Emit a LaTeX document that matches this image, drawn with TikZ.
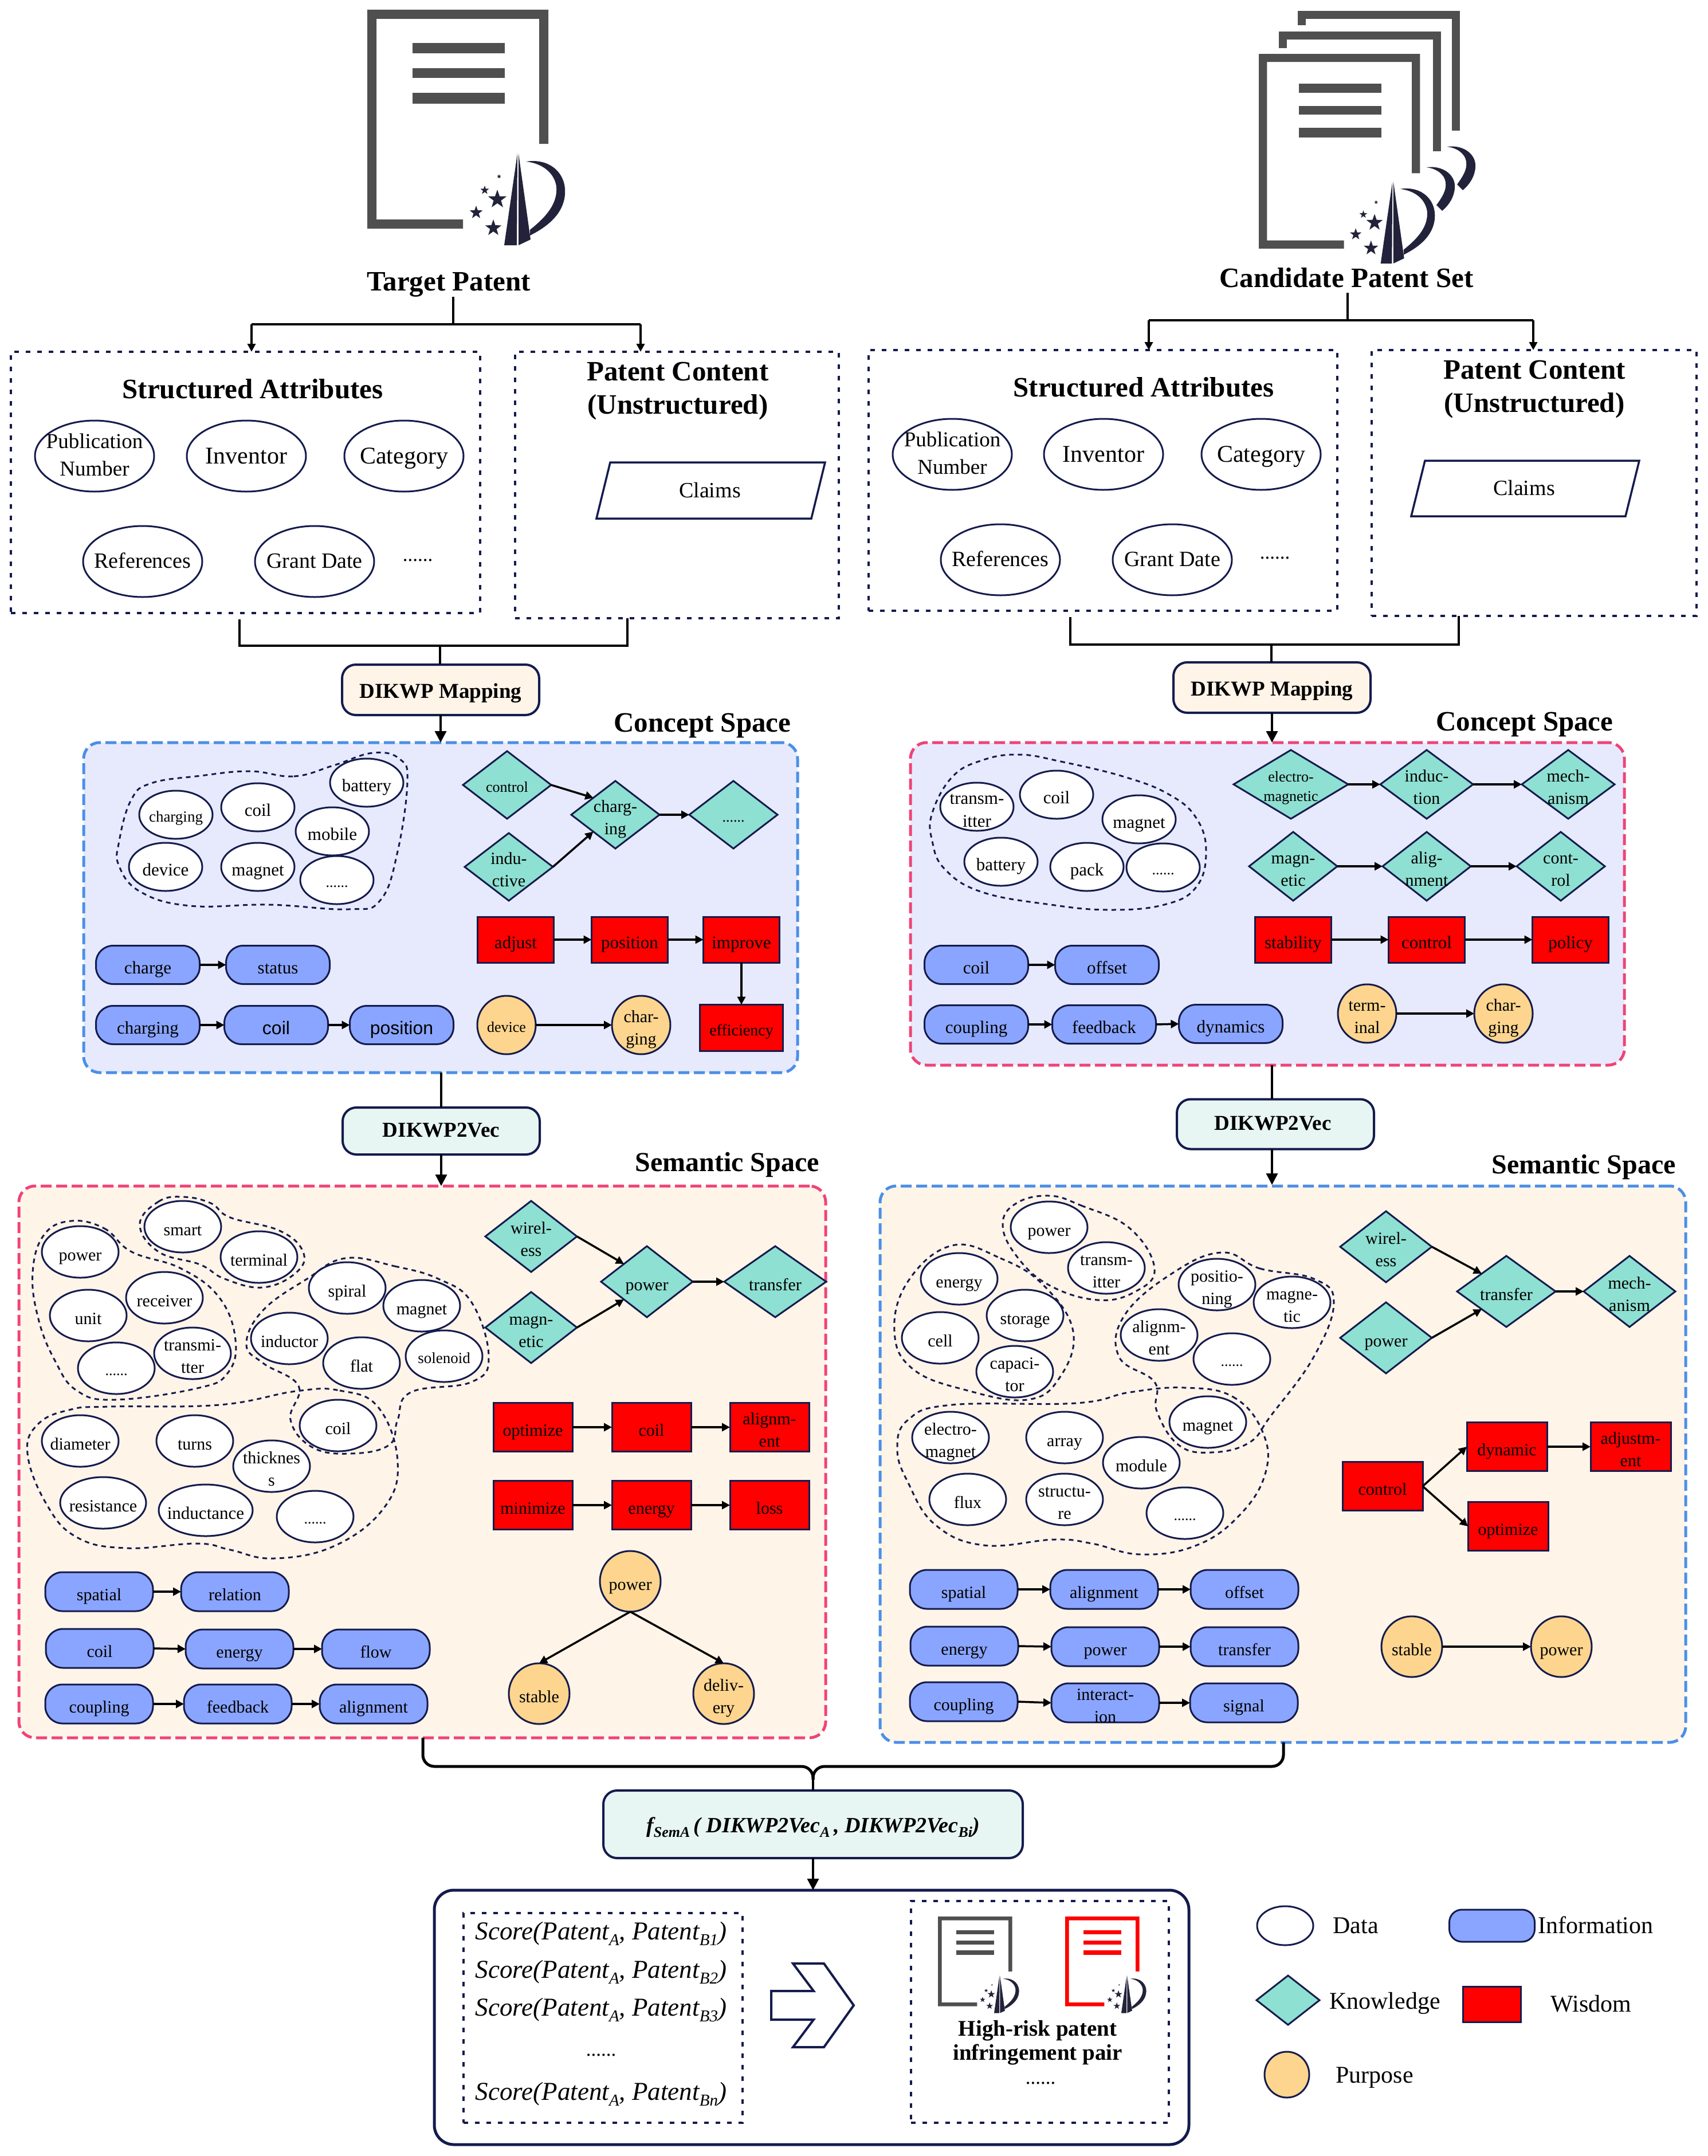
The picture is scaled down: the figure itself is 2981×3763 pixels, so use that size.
\documentclass[tikz,border=0pt]{standalone}
\usepackage{fontspec}
\setmainfont{Liberation Serif}
\newfontfamily\lsans{Liberation Sans}
\usetikzlibrary{shapes.geometric,arrows.meta,calc}
\definecolor{navy}{HTML}{141B4D}
\definecolor{cblue}{HTML}{4A8FE7}
\definecolor{crim}{HTML}{EE4478}
\definecolor{pconc}{HTML}{E7EAFD}
\definecolor{psem}{HTML}{FFF4E8}
\definecolor{pvec}{HTML}{E8F6F3}
\definecolor{teal}{HTML}{8EE0D2}
\definecolor{pblue}{HTML}{8AA5FF}
\definecolor{porange}{HTML}{FDD58E}
\definecolor{docgray}{HTML}{4F4F4F}
\definecolor{logoc}{HTML}{22233A}
\newcommand\tbd{-.2em}
\newcommand\tb[1]{\smash{\makebox[0pt][c]{\raisebox{\tbd}{\begin{tabular}[c]{@{}c@{}}#1\end{tabular}}}}}
\newcommand\nd[4][]{\node[#1] (#2) at (#3) {\tb{#4}};}
\newcommand\lnk[2]{\draw[arr] (#1.east) -- (#2.west);}
\newcommand\starp[3]{\fill[logoc,shift={(#1,#2)}] (-90:#3) -- (-54:.4*#3) -- (-18:#3) -- (18:.4*#3) -- (54:#3) -- (90:.4*#3) -- (126:#3) -- (162:.4*#3) -- (198:#3) -- (234:.4*#3) -- cycle;}
\newcommand\subt[2]{\raisebox{-.22em}{\fontsize{#1}{#1}\selectfont #2}}
\newcommand\scr[1]{Score(Patent\subt{29}{A}, Patent\subt{29}{#1})}
\newcommand\logodraw{%
  \fill[logoc] (262,251) -- (239,411) -- (261,411) -- cycle;
  \fill[logoc] (264,251) -- (264,411) -- (285,401) -- cycle;
  \fill[logoc] (277,265) .. controls (320,258) and (352,288) .. (344,330) .. controls (338,360) and (312,380) .. (284,394) -- (284,384) .. controls (312,362) and (333,338) .. (330,308) .. controls (326,284) and (305,268) .. (277,265) -- cycle;
  \starp{227}{331}{17}\starp{220}{381}{15}\starp{190}{354}{12}\starp{205}{315}{8}\starp{230}{291}{4}}
\tikzset{
 sz/.style={font=\fontsize{#1}{\the\numexpr#1*13/10\relax}\selectfont},
 wh/.style 2 args={minimum width=#1pt,minimum height=#2pt},
 drop/.style={execute at begin node={\renewcommand\tbd{#1}}},
 base/.style={inner sep=0pt,outer sep=0pt,line width=3pt,draw=navy,drop=-.45em},
 dat/.style={base,ellipse,fill=white,wh={128}{84},sz=31},
 inf/.style={base,rectangle,rounded corners=30pt,fill=pblue,wh={181}{67},sz=31},
 kno/.style={base,diamond,fill=teal,wh={154}{118},sz=30},
 wis/.style={base,rectangle,fill=red,wh={133}{80},sz=31},
 pur/.style={base,ellipse,fill=porange,wh={102}{102},sz=28},
 attr/.style={base,drop=-.2em,ellipse,fill=white,wh={208}{124},sz=38},
 ttl/.style={inner sep=0pt,outer sep=0pt,font=\fontsize{49}{58}\selectfont\bfseries},
 lbl/.style={inner sep=0pt,outer sep=0pt,sz=40},
 dotbox/.style={rectangle,inner sep=0pt,outer sep=0pt,draw=navy,line width=3.5pt,dash pattern=on 8pt off 12pt},
 opbox/.style={rectangle,inner sep=0pt,outer sep=0pt,draw=navy,line width=4pt,rounded corners=24pt,wh={344}{88},drop=-.3em,font=\fontsize{37}{46}\selectfont\bfseries},
 panel/.style={rectangle,inner sep=0pt,outer sep=0pt,line width=5pt,rounded corners=28pt,dash pattern=on 19pt off 8pt},
 blob/.style={draw=navy,line width=3pt,dash pattern=on 8pt off 7pt},
 arr/.style={-{Triangle[length=14pt,width=14pt]},line width=3.5pt,draw=black},
 bigarr/.style={-{Triangle[length=20pt,width=20pt]},line width=3.5pt,draw=black},
 wire/.style={line width=3.5pt,draw=black},
 pics/docicon/.style={code={
  \fill[#1] (0,0) -- (316,0) -- (316,234) -- (300,234) -- (300,16) -- (16,16) -- (16,366) -- (167,366) -- (167,382) -- (0,382) -- cycle;
  \fill[#1] (79,58) rectangle (240,76);
  \fill[#1] (79,102) rectangle (240,119);
  \fill[#1] (79,145) rectangle (240,164);
  \logodraw
 }},
 pics/arcpiece/.style={code={
  \fill[logoc] (0,0) .. controls (30,-4) and (52,14) .. (50,36) .. controls (49,52) and (40,66) .. (28,76) -- (18,66) .. controls (28,52) and (36,40) .. (34,26) .. controls (32,12) and (18,2) .. (0,0) -- cycle;
 }}
}
\begin{document}
\begin{tikzpicture}[x=1pt,y=-1pt]
\useasboundingbox (0,0) rectangle (2981,3763);
%% ---------- panels
\node[dotbox,wh={819}{456}] (sa) at (428.5,842) {};
\node[dotbox,wh={565}{465}] (pa) at (1181.5,846.5) {};
\node[dotbox,wh={818}{455}] (sb) at (1925,838.5) {};
\node[dotbox,wh={567}{464}] (pb) at (2677.5,843) {};
\node[panel,draw=cblue,fill=pconc,wh={1246}{576}] (pcl) at (769,1584) {};
\node[panel,draw=crim,fill=pconc,wh={1246}{563}] (pcr) at (2212,1577.5) {};
\node[panel,draw=crim,fill=psem,wh={1408}{963}] (psl) at (737,2551.5) {};
\node[panel,draw=cblue,fill=psem,wh={1406}{971}] (psr) at (2239,2555.5) {};
%% ---------- icons
\pic at (641,17) {docicon=docgray};
\draw[docgray,line width=14pt] (2239,84) -- (2239,62) -- (2508,62) -- (2508,264);
\draw[docgray,line width=14pt] (2272,44) -- (2272,26) -- (2541,26) -- (2541,228);
\pic[scale=.89] at (2197,94) {docicon=docgray};
\pic at (2489,292) {arcpiece};
\pic at (2525,256) {arcpiece};
%% ---------- top titles
\nd[ttl]{tp}{783,492}{Target Patent}
\nd[ttl]{cp}{2350,486}{Candidate Patent Set}
\nd[ttl]{sat}{441,680}{Structured Attributes}
\nd[ttl]{pct}{1183,678}{Patent Content\\(Unstructured)}
\nd[ttl]{sbt}{1996,677}{Structured Attributes}
\nd[ttl]{pbt}{2678,675}{Patent Content\\(Unstructured)}
%% ---------- attributes
\nd[attr,sz=37]{a1}{165,796}{Publication\\Number}
\nd[attr,sz=42]{a2}{430,796}{Inventor}
\nd[attr,sz=42]{a3}{705,796}{Category}
\nd[attr]{a4}{249,980}{References}
\nd[attr]{a5}{549,980}{Grant Date}
\nd[lbl,sz=35]{a6}{729,970}{......}
\nd[attr,sz=37]{b1}{1662,793}{Publication\\Number}
\nd[attr,sz=42]{b2}{1926,793}{Inventor}
\nd[attr,sz=42]{b3}{2201,793}{Category}
\nd[attr]{b4}{1746,977}{References}
\nd[attr]{b5}{2046,977}{Grant Date}
\nd[lbl,sz=35]{b6}{2225,966}{......}
\draw[navy,line width=3.5pt] (1065,807) -- (1440,807) -- (1416,905) -- (1041,905) -- cycle;
\draw[navy,line width=3.5pt] (2487,804) -- (2861,804) -- (2837,901) -- (2463,901) -- cycle;
\nd[lbl,sz=38]{cla}{1239,857}{Claims}
\nd[lbl,sz=38]{clb}{2660,853}{Claims}
%% ---------- operators
\node[opbox,fill=psem] (ml) at (769,1204) {\tb{DIKWP Mapping}};
\node[opbox,fill=psem] (mr) at (2220,1200) {\tb{DIKWP Mapping}};
\node[opbox,drop=-.2em,fill=pvec,wh={344}{82}] (vl) at (770,1974) {\tb{DIKWP2Vec}};
\node[opbox,drop=-.2em,fill=pvec,wh={344}{87}] (vr) at (2226,1962) {\tb{\kern-9pt DIKWP2Vec}};
\node[ttl] (csl) at (1226,1262) {\tb{Concept Space}};
\node[ttl] (csr) at (2661,1260) {\tb{Concept Space}};
\node[ttl,font=\fontsize{48}{58}\selectfont\bfseries] (ssl) at (1269,2029) {\tb{Semantic Space}};
\node[ttl,font=\fontsize{48}{58}\selectfont\bfseries] (ssr) at (2764,2033) {\tb{Semantic Space}};
%% ---------- trunk connectors
\coordinate (t1) at (791,518); \coordinate (t2) at (791,566);
\coordinate (t3) at (439,566); \coordinate (t4) at (1118,566);
\draw[wire] (t1) -- (t2); \draw[wire] (t3) -- (t4);
\draw[arr] (t3) -- (t3 |- sa.north); \draw[arr] (t4) -- (t4 |- pa.north);
\coordinate (u1) at (2352,511); \coordinate (u2) at (2352,559);
\coordinate (u3) at (2005,559); \coordinate (u4) at (2676,559);
\draw[wire] (u1) -- (u2); \draw[wire] (u3) -- (u4);
\draw[arr] (u3) -- (u3 |- sb.north); \draw[arr] (u4) -- (u4 |- pb.north);
\coordinate (m1) at (418,1081); \coordinate (m2) at (418,1127); \coordinate (m3) at (1095,1127);
\draw[wire] (m1) -- (m2) -- (m3) -- (m3 |- pa.south);
\draw[wire] (768,1127) -- (768,1159);
\coordinate (n1) at (1868,1077); \coordinate (n2) at (1868,1125); \coordinate (n3) at (2546,1125);
\draw[wire] (n1) -- (n2) -- (n3) -- (n3 |- pb.south);
\draw[wire] (2219,1125) -- (2219,1156);
\draw[bigarr] (ml.south) -- (ml.south |- pcl.north);
\draw[bigarr] (mr.south) -- (mr.south |- pcr.north);
\draw[wire] (vl.north |- pcl.south) -- (vl.north);
\draw[wire] (2220,1859) -- (2220,1918);
\draw[bigarr] (vl.south) -- (vl.south |- psl.north);
\draw[bigarr] (2220,2005) -- (2220,2068);
%% ---------- concept left
\draw[blob] plot[smooth cycle,tension=.7] coordinates {(436,1346) (513,1355) (582,1336) (651,1314) (698,1325) (711,1365) (694,1486) (664,1571) (608,1587) (470,1579) (332,1581) (246,1557) (208,1512) (208,1468) (229,1396) (264,1367) (350,1354)};
\nd[dat,sz=27]{c1}{307,1422}{charging}
\nd[dat]{c2}{450,1409}{coil}
\nd[dat]{c3}{640,1366}{battery}
\nd[dat]{c4}{580,1451}{mobile}
\nd[dat]{c5}{289,1513}{device}
\nd[dat]{c6}{450,1513}{magnet}
\nd[dat,sz=26]{c7}{588,1536}{......}
\nd[kno,sz=26]{k1}{885,1370}{control}
\nd[kno]{k2}{1074,1422}{charg-\\ing}
\nd[kno,sz=26]{k3}{1280,1422}{......}
\nd[kno]{k4}{888,1513}{indu-\\ctive}
\draw[arr] (k1.east) -- (k2.north west);
\draw[arr] (k4.east) -- (k2.south west);
\lnk{k2}{k3}
\nd[wis]{w1}{900,1640}{adjust}
\nd[wis]{w2}{1099,1640}{position}
\nd[wis]{w3}{1294,1640}{improve}
\nd[wis,wh={145}{81},sz=28]{w4}{1294,1794}{efficiency}
\lnk{w1}{w2}\lnk{w2}{w3}
\draw[arr] (w3.south) -- (w4.north);
\nd[inf]{i1}{258,1684}{charge}
\nd[inf]{i2}{485,1684}{status}
\nd[inf]{i3}{258,1789}{charging}
\node[inf,font=\fontsize{32}{40}\selectfont\lsans] (i4) at (482,1789) {\tb{coil}};
\node[inf,font=\fontsize{32}{40}\selectfont\lsans] (i5) at (701,1789) {\tb{position}};
\lnk{i1}{i2}\lnk{i3}{i4}\lnk{i4}{i5}
\nd[pur,sz=26]{p1}{884,1789}{device}
\nd[pur,sz=30]{p2}{1119,1789}{char-\\ging}
\lnk{p1}{p2}
%% ---------- concept right
\draw[blob] plot[smooth cycle,tension=.7] coordinates {(1778,1317) (1851,1329) (1963,1356) (2041,1387) (2088,1428) (2105,1486) (2088,1548) (2032,1579) (1937,1588) (1834,1579) (1714,1557) (1649,1517) (1627,1468) (1627,1419) (1662,1356) (1714,1327)};
\nd[dat]{d1}{1705,1408}{transm-\\itter}
\nd[dat]{d2}{1844,1387}{coil}
\nd[dat]{d3}{1988,1430}{magnet}
\nd[dat]{d4}{1747,1504}{battery}
\nd[dat]{d5}{1897,1513}{pack}
\nd[dat,sz=26]{d6}{2030,1514}{......}
\nd[kno,wh={200}{120},sz=26]{kr1}{2253,1369}{electro-\\magnetic}
\nd[kno,wh={162}{120}]{kr2}{2490,1369}{induc-\\tion}
\nd[kno,wh={162}{120}]{kr3}{2737,1369}{mech-\\anism}
\nd[kno,wh={154}{120}]{kr4}{2257,1512}{magn-\\etic}
\nd[kno,wh={154}{120}]{kr5}{2490,1512}{alig-\\nment}
\nd[kno,wh={154}{120}]{kr6}{2724,1512}{cont-\\rol}
\lnk{kr1}{kr2}\lnk{kr2}{kr3}\lnk{kr4}{kr5}\lnk{kr5}{kr6}
\nd[wis]{wr1}{2257,1640}{stability}
\nd[wis]{wr2}{2490,1640}{control}
\nd[wis]{wr3}{2741,1640}{policy}
\lnk{wr1}{wr2}\lnk{wr2}{wr3}
\nd[inf]{ir1}{1704,1684}{coil}
\nd[inf]{ir2}{1932,1684}{offset}
\nd[inf]{ir3}{1704,1788}{coupling}
\nd[inf]{ir4}{1927,1788}{feedback}
\nd[inf]{ir5}{2148,1787}{dynamics}
\lnk{ir1}{ir2}\lnk{ir3}{ir4}\lnk{ir4}{ir5}
\nd[pur,sz=30]{pr1}{2386,1769}{term-\\inal}
\nd[pur,sz=30]{pr2}{2624,1769}{char-\\ging}
\lnk{pr1}{pr2}
%% ---------- semantic left
\tikzset{dats/.style={dat,wh={134}{90},sz=30}}
\draw[blob] plot[smooth cycle,tension=.7] coordinates {(244,2137) (277,2097) (320,2089) (368,2100) (402,2125) (488,2148) (529,2185) (517,2221) (459,2247) (392,2232) (349,2207) (277,2185)};
\draw[blob] plot[smooth cycle,tension=.7] coordinates {(124,2131) (182,2144) (230,2185) (316,2214) (383,2265) (411,2339) (397,2397) (344,2423) (201,2443) (134,2427) (96,2375) (67,2302) (57,2221) (77,2155)};
\draw[blob] plot[smooth cycle,tension=.7] coordinates {(603,2196) (689,2210) (765,2232) (823,2273) (853,2368) (823,2412) (717,2430) (694,2478) (679,2522) (612,2537) (545,2526) (507,2478) (521,2419) (459,2379) (430,2346) (459,2287) (536,2232)};
\draw[blob] plot[smooth cycle,tension=.7] coordinates {(517,2428) (593,2427) (660,2456) (694,2551) (670,2632) (584,2698) (478,2720) (402,2705) (344,2694) (220,2702) (134,2683) (81,2625) (48,2537) (67,2485) (124,2460) (191,2455) (383,2452)};
\nd[dats]{s1}{319,2141}{smart}
\nd[dats]{s2}{452,2194}{terminal}
\nd[dats]{s3}{140,2185}{power}
\nd[dats]{s4}{287,2265}{receiver}
\nd[dats]{s5}{154,2296}{unit}
\nd[dats]{s6}{336,2362}{transmi-\\tter}
\nd[dats,sz=26]{s7}{203,2388}{......}
\nd[dats]{s8}{606,2248}{spiral}
\nd[dats]{s9}{736,2279}{magnet}
\nd[dats]{s10}{505,2336}{inductor}
\nd[dats]{s11}{631,2379}{flat}
\nd[dats,sz=27]{s12}{775,2367}{solenoid}
\nd[dats]{s13}{590,2488}{coil}
\nd[dats]{s14}{140,2515}{diameter}
\nd[dats]{s15}{340,2515}{turns}
\nd[dats]{s16}{474,2559}{thicknes\\s}
\nd[dats,wh={150}{90}]{s17}{180,2623}{resistance}
\nd[dats,wh={164}{90},sz=31]{s18}{359,2636}{inductance}
\nd[dats,sz=26]{s19}{550,2647}{......}
\tikzset{knos/.style={kno,wh={160}{124},sz=30}}
\nd[knos]{sk1}{927,2158}{wirel-\\ess}
\nd[knos]{sk2}{927,2317}{magn-\\etic}
\nd[knos]{sk3}{1129,2237}{power}
\nd[knos,wh={178}{124}]{sk4}{1353,2237}{transfer}
\draw[arr] (sk1.east) -- (sk3.north west);
\draw[arr] (sk2.east) -- (sk3.south west);
\lnk{sk3}{sk4}
\tikzset{wiss/.style={wis,wh={138}{85},sz=30}}
\nd[wiss]{sw1}{930,2491}{optimize}
\nd[wiss]{sw2}{1137,2491}{coil}
\nd[wiss]{sw3}{1343,2491}{alignm-\\ent}
\nd[wiss]{sw4}{930,2627}{minimize}
\nd[wiss]{sw5}{1137,2627}{energy}
\nd[wiss]{sw6}{1343,2627}{loss}
\lnk{sw1}{sw2}\lnk{sw2}{sw3}\lnk{sw4}{sw5}\lnk{sw5}{sw6}
\tikzset{purs/.style={pur,wh={106}{106},sz=30}}
\nd[purs]{sp1}{1100,2760}{power}
\nd[purs]{sp2}{941,2956}{stable}
\nd[purs]{sp3}{1263,2956}{deliv-\\ery}
\draw[arr] (sp1.south) -- (sp2.north);
\draw[arr] (sp1.south) -- (sp3.north);
\tikzset{infs/.style={inf,wh={188}{68},sz=30}}
\nd[infs]{si1}{173,2778}{spatial}
\nd[infs]{si2}{410,2778}{relation}
\nd[infs]{si3}{174,2877}{coil}
\nd[infs]{si4}{418,2878}{energy}
\nd[infs]{si5}{656,2878}{flow}
\nd[infs]{si6}{173,2974}{coupling}
\nd[infs]{si7}{415,2974}{feedback}
\nd[infs]{si8}{652,2974}{alignment}
\lnk{si1}{si2}\lnk{si3}{si4}\lnk{si4}{si5}\lnk{si6}{si7}\lnk{si7}{si8}
%% ---------- semantic right
\draw[blob] plot[smooth cycle,tension=.7] coordinates {(1831,2087) (1887,2104) (1972,2144) (2015,2214) (1982,2254) (1916,2269) (1831,2243) (1774,2192) (1750,2137) (1774,2100)};
\draw[blob] plot[smooth cycle,tension=.7] coordinates {(1661,2174) (1746,2196) (1821,2243) (1873,2324) (1849,2405) (1793,2443) (1689,2427) (1594,2390) (1561,2324) (1585,2236)};
\draw[blob] plot[smooth cycle,tension=.7] coordinates {(2133,2186) (2199,2214) (2293,2232) (2328,2273) (2293,2368) (2218,2471) (2180,2518) (2114,2535) (2057,2522) (2019,2463) (2015,2412) (1953,2368) (1963,2295) (2048,2221)};
\draw[blob] plot[smooth cycle,tension=.7] coordinates {(2067,2422) (2152,2438) (2204,2500) (2208,2573) (2161,2647) (2086,2698) (1991,2713) (1906,2694) (1840,2687) (1717,2697) (1632,2661) (1585,2588) (1566,2529) (1585,2478) (1661,2452) (1878,2449) (1972,2430)};
\nd[dats]{r1}{1831,2142}{power}
\nd[dats]{r2}{1931,2213}{transm-\\itter}
\nd[dats]{r3}{1674,2232}{energy}
\nd[dats]{r4}{1789,2296}{storage}
\nd[dats]{r5}{1641,2335}{cell}
\nd[dats]{r6}{1771,2394}{capaci-\\tor}
\nd[dats]{r7}{2124,2242}{positio-\\ning}
\nd[dats]{r8}{2255,2273}{magne-\\tic}
\nd[dats]{r9}{2023,2330}{alignm-\\ent}
\nd[dats,sz=26]{r10}{2150,2372}{......}
\nd[dats]{r11}{2108,2482}{magnet}
\nd[dats]{r12}{1659,2509}{electro-\\magnet}
\nd[dats]{r13}{1858,2509}{array}
\nd[dats]{r14}{1992,2553}{module}
\nd[dats]{r15}{1689,2617}{flux}
\nd[dats]{r16}{1858,2617}{structu-\\re}
\nd[dats,sz=26]{r17}{2068,2641}{......}
\nd[knos]{rk1}{2419,2176}{wirel-\\ess}
\nd[knos]{rk2}{2419,2335}{power}
\nd[knos,wh={172}{124}]{rk3}{2629,2254}{transfer}
\nd[knos]{rk4}{2844,2254}{mech-\\anism}
\draw[arr] (rk1.east) -- (rk3.north west);
\draw[arr] (rk2.east) -- (rk3.south west);
\lnk{rk3}{rk4}
\tikzset{wisr/.style={wis,wh={140}{85},sz=30}}
\nd[wisr]{rw1}{2413,2594}{control}
\nd[wisr]{rw2}{2630,2525}{dynamic}
\nd[wisr]{rw3}{2846,2525}{adjustm-\\ent}
\nd[wisr]{rw4}{2632,2664}{optimize}
\lnk{rw1}{rw2}\lnk{rw1}{rw4}\lnk{rw2}{rw3}
\nd[purs]{rp1}{2464,2874}{stable}
\nd[purs]{rp2}{2725,2874}{power}
\lnk{rp1}{rp2}
\nd[infs]{ri1}{1682,2774}{spatial}
\nd[infs]{ri2}{1927,2774}{alignment}
\nd[infs]{ri3}{2172,2774}{offset}
\nd[infs]{ri4}{1683,2873}{energy}
\nd[infs]{ri5}{1929,2874}{power}
\nd[infs]{ri6}{2172,2874}{transfer}
\nd[infs]{ri7}{1682,2970}{coupling}
\nd[infs]{ri8}{1929,2972}{interact-\\ion}
\nd[infs]{ri9}{2171,2972}{signal}
\lnk{ri1}{ri2}\lnk{ri2}{ri3}\lnk{ri4}{ri5}\lnk{ri5}{ri6}\lnk{ri7}{ri8}\lnk{ri8}{ri9}
%% ---------- similarity
\node[opbox,fill=pvec,wh={732}{118},font=\fontsize{38}{46}\selectfont\bfseries\itshape] (fs) at (1419,3184) {\tb{f\subt{26}{SemA}\,( DIKWP2Vec\subt{26}{A}\,, DIKWP2Vec\subt{26}{Bi})}};
\coordinate (bl) at (738,3033); \coordinate (br) at (2240,3041); \coordinate (bc) at (1419,3106);
\draw[line width=5pt,rounded corners=20pt] (bl) -- (738,3083) -- (1419,3083) -- (bc);
\draw[line width=5pt,rounded corners=20pt] (br) -- (2240,3083) -- (1419,3083) -- (bc);
\draw[wire] (bc) -- (fs.north);
\node[base,rectangle,line width=5pt,rounded corners=34pt,fill=white,wh={1317}{444}] (res) at (1416.5,3521) {};
\draw[bigarr] (fs.south) -- (fs.south |- res.north);
\node[dotbox,wh={487}{366}] (dl) at (1052.5,3522) {};
\node[dotbox,wh={450}{387}] (dr) at (1815,3511.5) {};
\pic[scale=.41] at (1637,3345) {docicon=docgray};
\pic[scale=.41] at (1859,3345) {docicon=red};
\tikzset{scoref/.style={inner sep=0pt,font=\fontsize{45}{54}\selectfont\itshape}}
\node[scoref] (sc1) at (1049,3372) {\tb{\scr{B1}}};
\node[scoref] (sc2) at (1049,3439) {\tb{\scr{B2}}};
\node[scoref] (sc3) at (1049,3505) {\tb{\scr{B3}}};
\nd[lbl,sz=35]{sc4}{1049,3578}{......}
\node[scoref] (sc5) at (1049,3652) {\tb{\scr{Bn}}};
\draw[navy,line width=4pt,fill=white] (1346,3475) -- (1420,3475) -- (1384,3427) -- (1438,3427) -- (1490,3500) -- (1438,3573) -- (1384,3573) -- (1420,3525) -- (1346,3525) -- cycle;
\node[inner sep=0pt,font=\fontsize{39}{42}\selectfont\bfseries] (hr) at (1811,3564) {\tb{High-risk patent\\infringement pair}};
\nd[lbl,sz=35]{hr2}{1816,3627}{......}
%% ---------- legend
\nd[base,ellipse,fill=white,wh={98}{68}]{l1}{2243,3361}{}
\nd[lbl,sz=42]{l1t}{2366,3361}{Data}
\nd[base,rectangle,rounded corners=22pt,fill=pblue,wh={149}{56}]{l2}{2604,3361}{}
\nd[lbl,sz=42]{l2t}{2785,3361}{Information}
\nd[base,diamond,fill=teal,wh={110}{86}]{l3}{2248,3491}{}
\nd[lbl,sz=42]{l3t}{2417,3493}{Knowledge}
\nd[base,rectangle,fill=red,wh={101}{62}]{l4}{2604,3498}{}
\nd[lbl,sz=42]{l4t}{2777,3498}{Wisdom}
\nd[base,ellipse,fill=porange,wh={78}{80}]{l5}{2246,3621}{}
\nd[lbl,sz=42]{l5t}{2399,3622}{Purpose}
\end{tikzpicture}
\end{document}
